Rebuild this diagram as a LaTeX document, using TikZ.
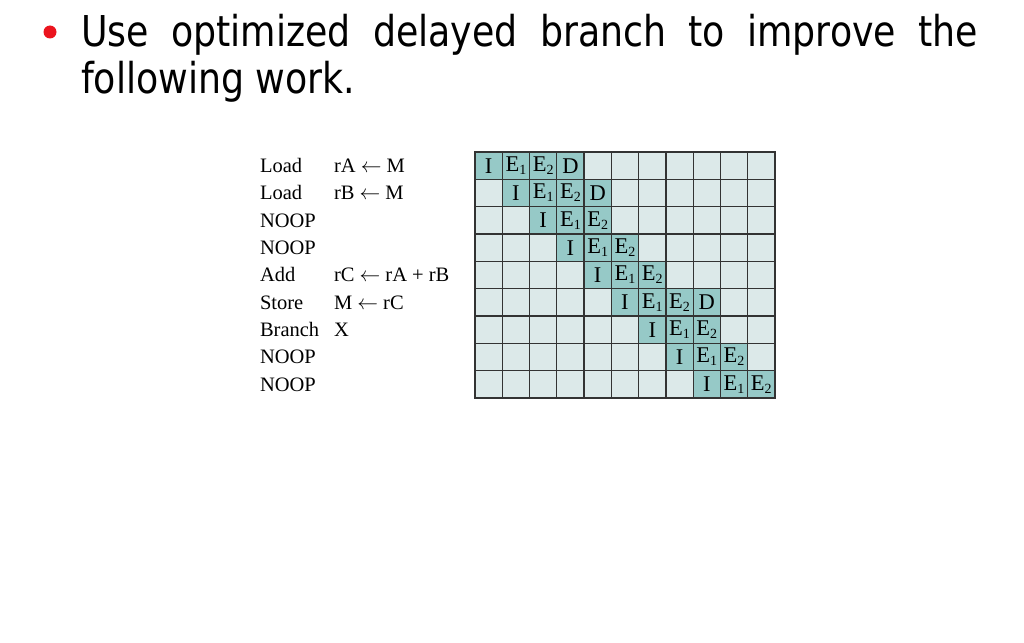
\documentclass[tikz,border=0pt]{standalone}
\usepackage{fontspec}
\setmainfont{Liberation Serif}
\newfontfamily\titlefont[FakeStretch=0.855]{DejaVu Sans}
\usepackage{xcolor}
\usetikzlibrary{positioning}
\definecolor{cellpale}{RGB}{220,233,233}
\definecolor{celldark}{RGB}{150,201,199}
\definecolor{bulletred}{RGB}{235,20,30}
\newcommand{\sub}[1]{\raisebox{-0.3ex}{\fontsize{14}{14}\selectfont #1}}
\begin{document}
\begin{tikzpicture}[
        x=1pt, y=-1pt,
        every node/.style={inner sep=0pt, outer sep=0pt},
        cell/.style={draw=black!80, line width=1.2pt, fill=cellpale, minimum width=27.27pt, minimum height=27.33pt, font=\fontsize{22.5}{22.5}\selectfont},
        busy/.style={fill=celldark},
        instr/.style={anchor=base west, font=\fontsize{20.5}{22}\selectfont},
        heading/.style={anchor=base west, font=\titlefont\fontsize{42.5}{47.5}\selectfont},
        ]
      \useasboundingbox (0,0) rectangle (1024,642);
      % title with bullet
      \node [circle, fill=bulletred, minimum size=13pt] (bullet) at (50,32) {};
      \node [heading] (title-a) at (81,46) {\makebox[897pt][s]{Use optimized delayed branch to improve the}};
      \node [heading] (title-b) at (81,93.5) {following work.};

      % empty grid
      \foreach \r in {0,...,8}
        \foreach \c in {0,...,10}
          \node [cell] (c-\r-\c) at ({475+27.27*(\c+0.5)},{152+27.33*(\r+0.5)}) {};

      % pipeline stages
      \foreach \r/\n in {0/4,1/4,2/3,3/3,4/3,5/4,6/3,7/3,8/3} {
        \foreach \s [count=\k from 0] in {I,E\sub{1},E\sub{2},D} {
          \ifnum\k<\n
            \pgfmathtruncatemacro{\c}{\r+\k}
            \node [cell, busy] at (c-\r-\c) {\s};
          \fi
        }
      }

      % instructions
      \foreach \r/\op/\arg in {0/Load/rA $\leftarrow$ M, 1/Load/rB $\leftarrow$ M, 2/NOOP/, 3/NOOP/,
                               4/Add/rC $\leftarrow$ rA + rB, 5/Store/M $\leftarrow$ rC, 6/Branch/X, 7/NOOP/, 8/NOOP/} {
        \node [instr] (op-\r) at (260,{152+27.33*(\r+0.5)+7}) {\op};
        \node [instr] (arg-\r) at (334,{152+27.33*(\r+0.5)+7}) {\arg};
      }
    \end{tikzpicture}
\end{document}
